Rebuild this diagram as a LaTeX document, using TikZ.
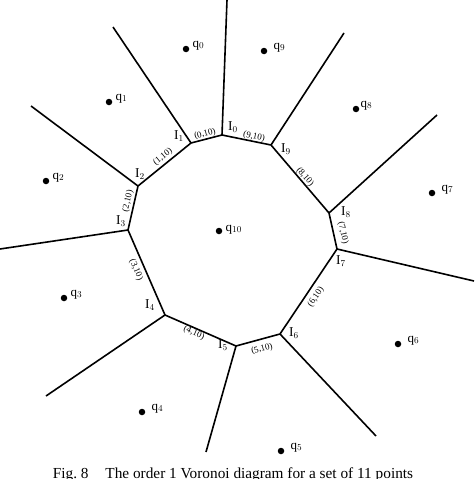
\documentclass[tikz,border=0pt]{standalone}
\usepackage{fontspec}
\setmainfont{Liberation Serif}
\begin{document}
\begin{tikzpicture}[x=1pt,y=-1pt,
  edge/.style={line width=1.6pt},
  dot/.style={circle,fill=black,inner sep=0pt,minimum size=6.5pt},
  qlab/.style={anchor=south west,inner sep=0pt,font=\fontsize{13}{13}\selectfont},
  ilab/.style={inner sep=0pt,font=\fontsize{13.5}{13.5}\selectfont},
  plab/.style={inner sep=0pt,font=\fontsize{9}{9}\selectfont}]
\useasboundingbox (0,0) rectangle (474,479);
% decagon vertices
\coordinate (I0) at (222,135);
\coordinate (I1) at (191,143);
\coordinate (I2) at (138,186);
\coordinate (I3) at (128,230);
\coordinate (I4) at (165,315);
\coordinate (I5) at (236,346);
\coordinate (I6) at (280,334);
\coordinate (I7) at (337,249);
\coordinate (I8) at (329,213);
\coordinate (I9) at (271,145);
% ray ends
\coordinate (E0) at (227,0);
\coordinate (E1) at (113,27);
\coordinate (E2) at (31,106);
\coordinate (E3) at (0,249);
\coordinate (E4) at (46,396);
\coordinate (E5) at (206,452);
\coordinate (E6) at (376,436);
\coordinate (E7) at (474,281);
\coordinate (E8) at (437,115);
\coordinate (E9) at (344,33);
\draw[edge,line join=miter] (I0) -- (I1) -- (I2) -- (I3) -- (I4) -- (I5) -- (I6) -- (I7) -- (I8) -- (I9) -- cycle;
\foreach \k in {0,...,9} \draw[edge] (I\k) -- (E\k);
% points
\node[dot] (q0) at (186,49) {};
\node[dot] (q1) at (109,102) {};
\node[dot] (q2) at (46,181) {};
\node[dot] (q3) at (64,298) {};
\node[dot] (q4) at (142,412) {};
\node[dot] (q5) at (281,451) {};
\node[dot] (q6) at (398,344) {};
\node[dot] (q7) at (432,193) {};
\node[dot] (q8) at (356,109) {};
\node[dot] (q9) at (264,51) {};
\node[dot] (q10) at (219,231) {};
\node[qlab] (lq0) at ([xshift=3pt,yshift=-1pt]q0.east) {q$_0$};
\node[qlab] (lq1) at ([xshift=3pt,yshift=-1pt]q1.east) {q$_1$};
\node[qlab] (lq2) at ([xshift=3pt,yshift=-1pt]q2.east) {q$_2$};
\node[qlab] (lq3) at ([xshift=3pt,yshift=-1pt]q3.east) {q$_3$};
\node[qlab] (lq4) at ([xshift=6pt,yshift=-1pt]q4.east) {q$_4$};
\node[qlab] (lq5) at ([xshift=6pt,yshift=-1pt]q5.east) {q$_5$};
\node[qlab] (lq6) at ([xshift=6pt,yshift=-1pt]q6.east) {q$_6$};
\node[qlab] (lq7) at ([xshift=6pt,yshift=-1pt]q7.east) {q$_7$};
\node[qlab] (lq8) at ([xshift=1pt,yshift=-1pt]q8.east) {q$_8$};
\node[qlab] (lq9) at ([xshift=6pt,yshift=-1pt]q9.east) {q$_9$};
\node[qlab] (lq10) at ([xshift=3pt,yshift=-3pt]q10.east) {q$_{10}$};
% vertex labels
\node[ilab] (l0) at (233,127) {I$_0$};
\node[ilab] (l1) at (179,136) {I$_1$};
\node[ilab] (l2) at (140,174) {I$_2$};
\node[ilab] (l3) at (121,221) {I$_3$};
\node[ilab] (l4) at (150,305) {I$_4$};
\node[ilab] (l5) at (223,345) {I$_5$};
\node[ilab] (l6) at (294,333) {I$_6$};
\node[ilab] (l7) at (341,261) {I$_7$};
\node[ilab] (l8) at (346,212) {I$_8$};
\node[ilab] (l9) at (286,149) {I$_9$};
% pair labels
\node[plab,rotate=14.5] (p0) at (205,134) {(0,10)};
\node[plab,rotate=-11.5] (p9) at (254,137) {(9,10)};
\node[plab,rotate=39] (p1) at (163,157) {(1,10)};
\node[plab,rotate=77] (p2) at (128,201) {(2,10)};
\node[plab,rotate=-66.5] (p3) at (136,270) {(3,10)};
\node[plab,rotate=-49.5] (p8) at (305,177) {(8,10)};
\node[plab,rotate=-77.5] (p7) at (343,233) {(7,10)};
\node[plab,rotate=56] (p6) at (316,297) {(6,10)};
\node[plab,rotate=-23.6] (p4) at (194,333) {(4,10)};
\node[plab,rotate=15] (p5) at (262,349) {(5,10)};
% caption
\node[anchor=base,inner sep=0pt,font=\fontsize{15.3}{15.3}\selectfont] (cap) at (233,478.5) {Fig.~8\hspace{1.1em}The order 1 Voronoi diagram for a set of 11 points};
\end{tikzpicture}
\end{document}
